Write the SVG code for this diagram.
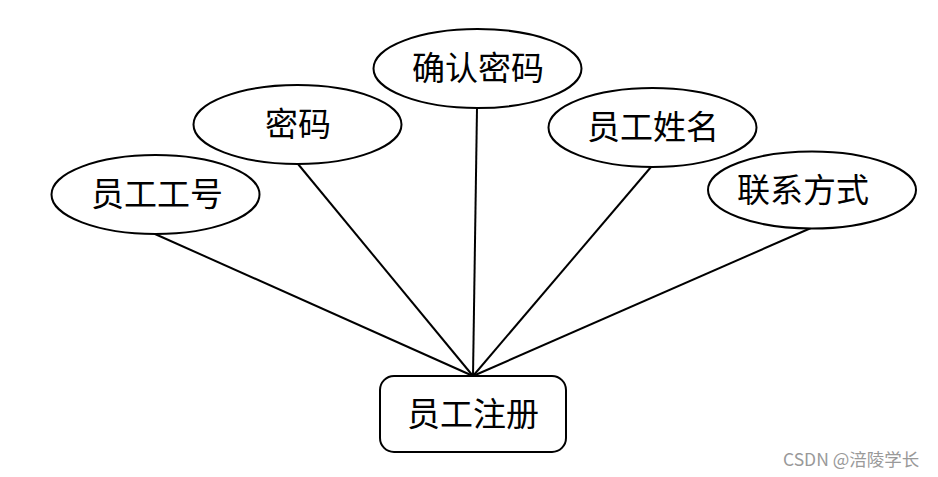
<svg xmlns="http://www.w3.org/2000/svg" width="938" height="477" viewBox="0 0 938 477">
<style>
.n{fill:#fff;stroke:#000;stroke-width:2}
.t{font-family:"Noto Sans CJK SC","Noto Sans",sans-serif;font-size:33px;fill:#000;text-anchor:middle;dominant-baseline:central}
.c{stroke:#000;stroke-width:2;fill:none}
.w{font-family:"Noto Sans CJK SC","Liberation Sans",sans-serif;font-size:17.5px;fill:#999}
</style>
<rect width="938" height="477" fill="#fff"/>
<g id="connectors">
<line class="c" x1="155" y1="234" x2="473" y2="376"/>
<line class="c" x1="298" y1="164" x2="473" y2="376"/>
<line class="c" x1="477" y1="108" x2="473" y2="376"/>
<line class="c" x1="651" y1="167" x2="473" y2="376"/>
<line class="c" x1="811" y1="228" x2="473" y2="376"/>
</g>
<g id="n1"><ellipse class="n" cx="155.5" cy="194.5" rx="104" ry="39.5"/><text class="t" x="157" y="192">员工工号</text></g>
<g id="n2"><ellipse class="n" cx="297.5" cy="124.5" rx="104" ry="39.5"/><text class="t" x="298" y="122">密码</text></g>
<g id="n3"><ellipse class="n" cx="477.5" cy="68.5" rx="104" ry="39.5"/><text class="t" x="478" y="66">确认密码</text></g>
<g id="n4"><ellipse class="n" cx="652.5" cy="127.5" rx="104" ry="39.5"/><text class="t" x="653" y="125">员工姓名</text></g>
<g id="n5"><ellipse class="n" cx="812" cy="190" rx="104" ry="38.5"/><text class="t" x="803" y="188">联系方式</text></g>
<g id="n6"><rect class="n" x="380" y="376" width="186" height="76" rx="14"/><text class="t" x="473" y="412">员工注册</text></g>
<text class="w" x="783" y="466">CSDN @涪陵学长</text>
</svg>
